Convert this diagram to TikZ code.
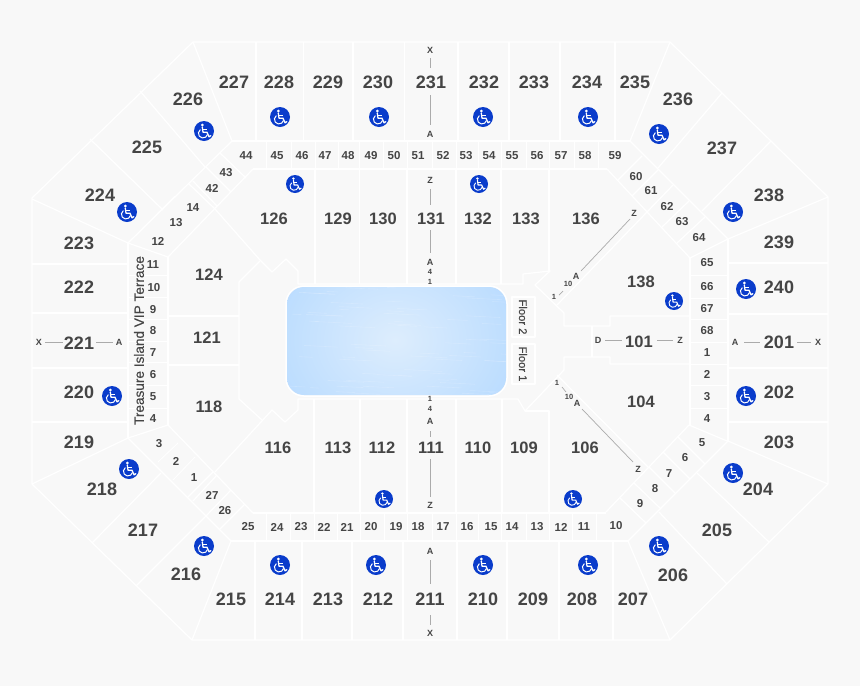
\documentclass[tikz,border=0pt]{standalone}
\usepackage{fontspec}
\setmainfont{Liberation Sans}
\newfontfamily\semifont[FakeBold=0.35]{Liberation Sans}
\definecolor{bgc}{HTML}{F8F8F8}
\definecolor{txt}{HTML}{454545}
\definecolor{aisle}{HTML}{ABABAB}
\definecolor{wcblue}{HTML}{0A3CCB}
\definecolor{rinkout}{HTML}{B4D9FF}
\definecolor{rinkin}{HTML}{DDEDFD}
\tikzset{
  seat/.style={draw=white,line width=1.2pt,line join=round},
  faint/.style={draw=white,line width=0.8pt},
  aisleline/.style={draw=aisle,line width=0.7pt},
  big/.style={text=txt,inner sep=0pt,font=\fontsize{18}{18}\selectfont\bfseries},
  mid/.style={text=txt,inner sep=0pt,font=\fontsize{16.5}{16.5}\selectfont\bfseries},
  small/.style={text=txt,inner sep=0pt,font=\fontsize{11.5}{11.5}\selectfont\bfseries},
  letter/.style={text=txt,inner sep=0pt,font=\fontsize{9}{9}\selectfont\bfseries},
  tiny/.style={text=txt,inner sep=0pt,font=\fontsize{7.5}{7.5}\selectfont\bfseries},
  pics/wc/.style={code={
    \begin{scope}[x=#1pt,y=#1pt]
      \fill[wcblue] (0,0) circle[radius=1];
      \fill[white] (-0.17,0.60) circle[radius=0.15];
      \draw[white,line width=0.13*#1pt,line cap=round,line join=round]
        (-0.17,0.40) -- (-0.10,-0.12) -- (0.30,-0.12) -- (0.50,-0.58) -- (0.68,-0.47);
      \draw[white,line width=0.11*#1pt] (-0.15,0.16) -- (0.25,0.16);
      \draw[white,line width=0.10*#1pt]
        ([shift={(125:0.46)}]-0.10,-0.24) arc[start angle=125,end angle=345,radius=0.46];
    \end{scope}}}
}
\begin{document}
\begin{tikzpicture}[x=1pt,y=-1pt]
\fill[bgc,use as bounding box] (0,0) rectangle (860,686);
% outer outline
\draw[seat] (193,42) -- (670,42) -- (828,197) -- (828,484) -- (670,640) -- (192,640) -- (32,484) -- (32,198) -- cycle;
% upper-tier dividers and ring
\foreach \a/\b/\c/\d in {
  193/42/232/141, 670/42/630/141, 192/640/231/541, 670/640/628/541,
  232/141/630/141, 231/541/628/541,
  256/42/256/141, 303.5/42/303.5/141, 353/42/353/141, 404.5/42/404.5/141,
  458/42/458/141, 509/42/509/141, 560/42/560/141, 615/42/615/141,
  255/541/255/640, 302/541/302/640, 352/541/352/640, 403/541/403/640,
  457/541/457/640, 507/541/507/640, 559/541/559/640, 613/541/613/640,
  140/91/205/167, 90/139/163/210, 32/199/128/243,
  32/264/128/264, 32/313/128/313, 32/368/128/368, 32/422/128/422,
  32/484/128/438, 92/543/161/473, 136/586/205/517,
  722/93/658/168, 771/141/702/211, 828/197/728/239,
  728/263/828/263, 728/314/828/314, 728/368/828/368, 728/422/828/422,
  728/441/828/484, 769/542/697/473, 727/584/659/512,
  128/243/128/438, 728/239/728/441,
  232/141/128/243, 630/141/728/239, 128/438/231/541, 728/441/628/541,
  253/169/607/169, 253/513/606/513,
  253/169/168/257, 607/169/690/258, 168/425/253/513, 689/425/606/512,
  168/257/168/425, 690/258/690/425,
  128/243/168/257, 728/239/690/258, 128/438/168/425, 727/441/689/425,
  220/153/246/178, 206/167/231/192, 193/181/217/206, 189/184/215/209,
  213/472/188/497, 217/475/193/501, 231/490/205/517, 245/504/220/529,
  642/156/618/180, 658/170/632/196, 673/185/647/212, 689/201/662/227, 705/217/677/243,
  678/437/705/464, 663/452/690/479, 649/467/675/493, 634/483/661/509, 620/498/646/523,
  168/316/239/316, 168/365/239/365,
  315/169/315/284, 359.5/169/359.5/284, 407/169/407/284, 456/169/456/284, 501/169/501/284,
  314/399/314/513, 360/399/360/513, 407/399/407/513, 456/399/456/513, 502/399/502/513,
  647/212/557/305, 648/467/557/375
  }{\draw[seat] (\a,\b) -- (\c,\d);}
% row dividers in the ring
\foreach \x in {266,291,315,338,359,383,407,432,456,478,501,526,549,574,598}
  {\draw[seat,line width=0.9pt] (\x,141) -- (\x,169);}
\foreach \x in {266,290,314,337,360,384,407,432,456,478,501,526,549,572,596}
  {\draw[seat,line width=0.9pt] (\x,513) -- (\x,541);}
\foreach \y in {275,297,319,341,362,385,408}
  {\draw[faint] (128,\y) -- (168,\y);}
\foreach \y in {275,298,319,342,364,385,408}
  {\draw[seat,line width=0.9pt] (690,\y) -- (728,\y);}
\foreach \a/\b/\c/\d in {178/443/158/462, 195/457/173/480, 175/196/158/213, 160/211/143/228}
  {\draw[faint] (\a,\b) -- (\c,\d);}
% floor-level boundary
\draw[seat] (215,209) -- (260,260) -- (272,272) -- (286,259) -- (298,271) -- (298,284) -- (523,284) -- (523,274) -- (550,271) -- (535,285) -- (564,313) -- (564,326) -- (610,326) -- (610,316) -- (690,316);
\draw[seat] (260,261) -- (239,282) -- (239,399) -- (262,420);
\draw[seat] (215,472) -- (272,410) -- (285,422) -- (298,410) -- (298,399) -- (518,399) -- (525,411) -- (564,370) -- (564,357) -- (610,357) -- (610,364) -- (690,364);
\draw[seat] (592,326) -- (592,357);
\draw[seat] (525,411) -- (549,411) -- (549,513);
\draw[seat] (549,169) -- (549,271);
% rink
\draw[white,line width=1.5pt,rounded corners=18pt] (286,286) rectangle (507,396);
\begin{scope}
  \clip[rounded corners=17pt] (287,287) rectangle (506,395);
  \shade[inner color=rinkin,outer color=rinkout,shading=radial] (245,215) rectangle (545,465);
  \pgfmathsetseed{4711}
  \foreach \i in {1,...,70}{
    \pgfmathsetmacro{\xa}{287+219*rnd}
    \pgfmathsetmacro{\ya}{287+108*rnd}
    \pgfmathsetmacro{\la}{8+30*rnd}
    \draw[white,opacity=0.16,line width=0.6pt] (\xa,\ya) -- ++(\la,0.1*\la-0.05*\la);
  }
\end{scope}
% floor boxes
\node[seat,minimum width=23pt,minimum height=40pt,inner sep=0pt] (boxF2) at (523.5,317) {};
\node[seat,minimum width=23pt,minimum height=40pt,inner sep=0pt] (boxF1) at (523.5,364) {};
\node[rotate=-90,text=txt,inner sep=0pt,font=\fontsize{11.2}{11.2}\selectfont\semifont] (floorB) at (523,317) {Floor 2};
\node[rotate=-90,text=txt,inner sep=0pt,font=\fontsize{11.2}{11.2}\selectfont\semifont] (floorA) at (523,364) {Floor 1};
\node[rotate=90,text=txt,inner sep=0pt,font=\fontsize{13.6}{13.6}\selectfont\semifont] (terrace) at (139,340.5) {Treasure Island VIP Terrace};
% upper-tier labels
\foreach \l/\x/\y in {227/234/82,228/279/82,229/328/82,230/378/82,231/431/82,232/484/82,233/534/82,234/587/82,235/635/82,
  236/678/99,237/722/148,238/769/195,239/779/242,240/779/287,201/779/342,202/779/392,203/779/442,204/758/489,205/717/530,
  206/673/575,207/633/599,208/582/599,209/533/599,210/483/599,211/430/599,212/378/599,213/328/599,214/280/599,215/231/599,
  216/186/574,217/143/530,218/102/489,219/79/442,220/79/392,221/79/343,222/79/287,223/79/243,224/100/195,225/147/147,226/188/99}
  {\node[big] (sec\l) at (\x,\y) {\l};}
% lower-tier labels
\foreach \l/\x/\y in {126/274/219,129/338/219,130/383/219,131/431/219,132/478/219,133/526/219,136/586/219,
  138/641/282,101/639/342,104/641/402,106/585/448,109/524/448,110/478/448,111/431/448,112/382/448,113/338/448,
  116/278/448,118/209/407,121/207/338,124/209/275}
  {\node[mid] (sec\l) at (\x,\y) {\l};}
% ring labels
\foreach \l/\x/\y in {44/246/156,45/277/156,46/302/156,47/325/156,48/348/156,49/371/156,50/394/156,51/418/156,52/443/156,
  53/466/156,54/489/156,55/512/156,56/537/156,57/561/156,58/585/156,59/615/156,
  43/226/173,42/212/188,14/193/208,13/176/223,12/158/241,11/153/265,10/154/288,9/153/310,8/153/331,7/153/353,6/153/375,5/153/397,4/153/419,
  3/159/444,2/176/461,1/194/478,27/212/495,26/225/511,25/248/527,24/277/527,23/301/527,22/324/527,21/347/527,20/371/527,19/396/527,18/418/527,
  17/443/527,16/467/527,15/491/527,14/512/527,13/537/527,12/561/527,11/584/527,10/616/526,
  60/636/177,61/651/191,62/667/207,63/682/222,64/699/238,65/707/263,66/707/287,67/707/309,68/707/331,1/707/353,2/707/374,3/707/397,4/707/419,
  5/702/443,6/685/458,7/669/474,8/655/489,9/640/504}
  {\node[small] (row\l x\x) at (\x,\y) {\l};}
% aisle letters
\foreach \l/\n/\x/\y in {X/a/430/50,A/b/430/134,Z/c/430/180,A/d/430/262,A/e/430/421,Z/f/430/505,A/g/430/551,X/h/430/633,
  X/i/39/342,A/j/119/342,A/k/735/342,X/l/818/342,D/m/598/340,Z/n/680/340,
  Z/o/634/213,A/p/576/276,A/q/577/403,Z/r/638/469}
  {\node[letter] (let\n) at (\x,\y) {\l};}
\foreach \l/\n/\x/\y in {4/a/430/272,1/b/430/282,1/c/430/399,4/d/430/409,10/e/568/284,1/f/554/297,1/g/557/383,10/h/569/397}
  {\node[tiny] (tin\n) at (\x,\y) {\l};}
\foreach \a/\b/\c/\d in {
  430/58/430/68, 430/95/430/125, 430/189/430/205, 430/230/430/253, 430/431/430/437, 430/459/430/497,
  430/560/430/584, 430/615/430/625,
  45/342/63/342, 96/342/113/342, 744/342/760/342, 797/342/811/342, 605/340/622/340, 657/340/673/340,
  630/219/581/271, 563/291/559/295, 562/387/566/392, 582/409/633/462}
  {\draw[aisleline] (\a,\b) -- (\c,\d);}
% accessibility symbols
\foreach \x/\y in {204/131,280/117,379/117,483/117,588/117,659/134,733/212,746/289,127/212,746/396,733/473,659/546,588/565,483/565,376/565,280/565,204/546,129/469,112/396}
  {\pic at (\x,\y) {wc=10};}
\foreach \x/\y in {295/184,479/184,674/301,384/499,573/499}
  {\pic at (\x,\y) {wc=9};}
\end{tikzpicture}
\end{document}
